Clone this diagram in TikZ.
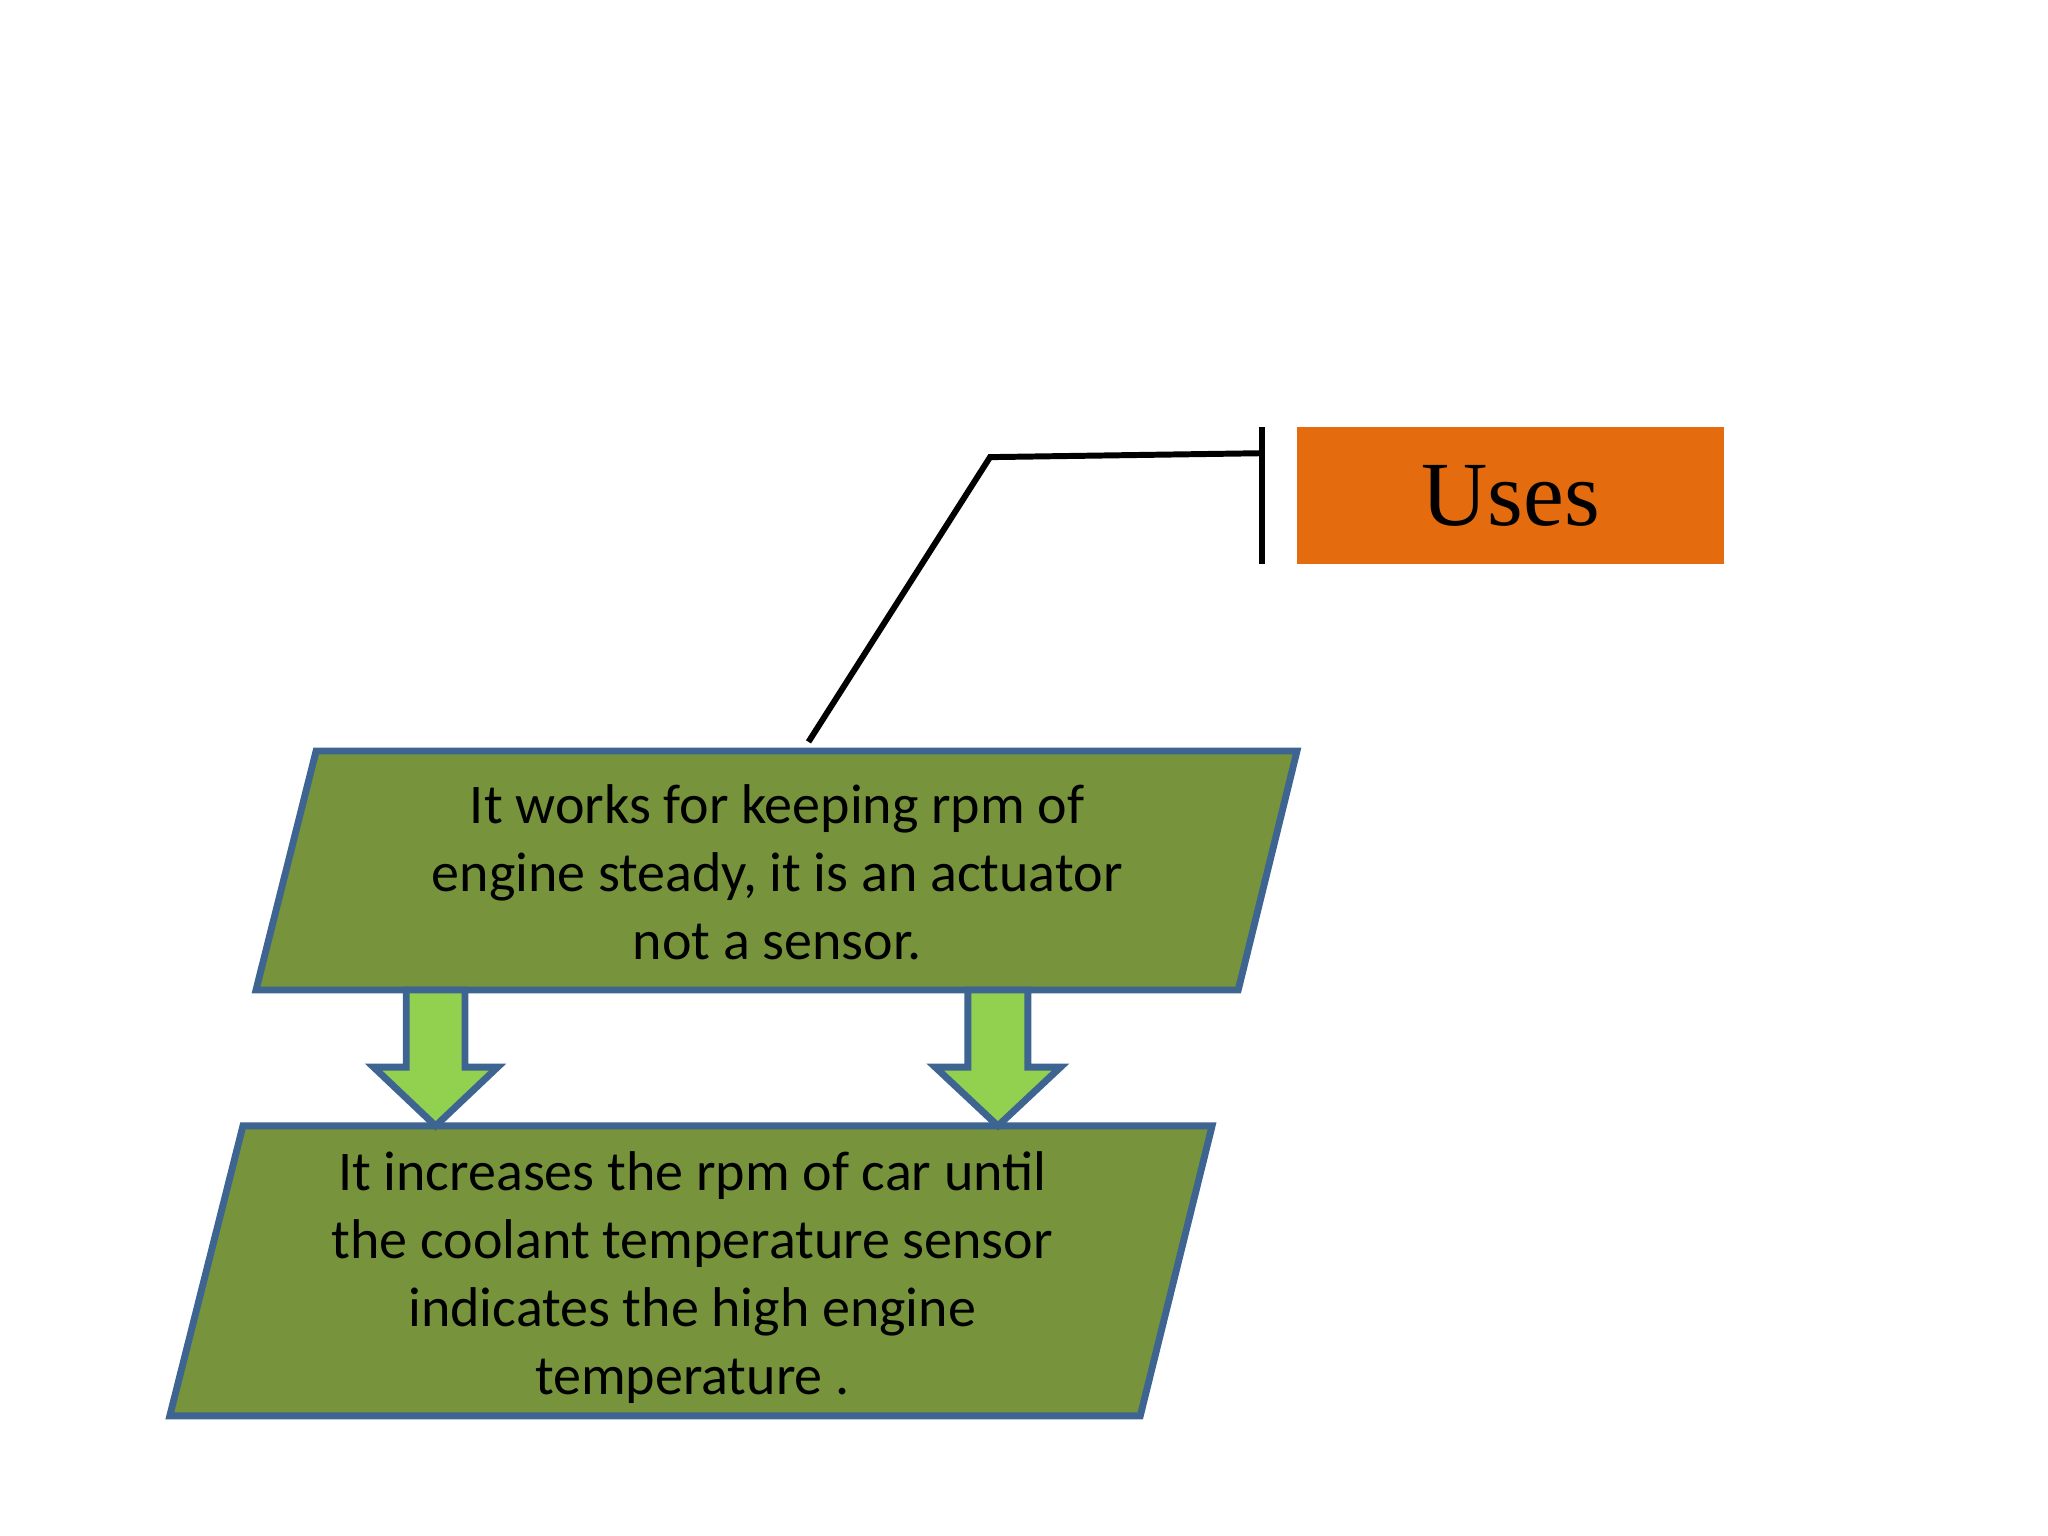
\documentclass[tikz,border=0pt]{standalone}
\usepackage{fontspec}
\setmainfont{Carlito}
\newfontfamily\usesfont{Liberation Serif}
\definecolor{boxgreen}{HTML}{77933C}
\definecolor{arrgreen}{HTML}{92D050}
\definecolor{edgeblue}{HTML}{3E6591}
\definecolor{useorange}{HTML}{E46C0E}
\begin{document}
\begin{tikzpicture}[yscale=-1,
  para/.style={fill=boxgreen,draw=edgeblue,line width=1.5pt,line join=miter},
  barr/.style={fill=arrgreen,draw=edgeblue,line width=1.5pt},
  txt/.style={align=center,font=\fontsize{12.2}{14.8}\selectfont,text=black}]
\useasboundingbox (0,0) rectangle (15.68,11.76);
% Uses box
\node[fill=useorange,minimum width=3.27cm,minimum height=1.05cm,inner sep=0pt,
  font=\usesfont\fontsize{20}{24}\selectfont] (uses) at (11.565,3.795) {Uses};
\draw[line width=1.3pt] (9.66,3.27) -- (9.66,4.32);
\coordinate (bar) at (9.66,3.47);
\coordinate (bend) at (7.58,3.50);
\coordinate (tail) at (6.19,5.68);
\draw[line width=1.3pt] (bar) -- (bend) -- (tail);
% parallelograms
\draw[para] (2.42,5.75) -- (9.93,5.75) -- (9.48,7.58) -- (1.96,7.58) -- cycle;
\node[txt] (p1) at (5.95,6.68) {It works for keeping rpm of\\engine steady, it is an actuator\\not a sensor.};
\draw[para] (1.86,8.62) -- (9.28,8.62) -- (8.73,10.84) -- (1.30,10.84) -- cycle;
\node[txt] (p2) at (5.3,9.78) {It increases the rpm of car until\\the coolant temperature sensor\\indicates the high engine\\temperature .};
% block arrows
\draw[barr] (3.11,7.58) -- (3.56,7.58) -- (3.56,8.17) -- (3.81,8.17) -- (3.335,8.62) -- (2.86,8.17) -- (3.11,8.17) -- cycle;
\draw[barr] (7.41,7.58) -- (7.87,7.58) -- (7.87,8.17) -- (8.12,8.17) -- (7.64,8.62) -- (7.16,8.17) -- (7.41,8.17) -- cycle;
\end{tikzpicture}
\end{document}
